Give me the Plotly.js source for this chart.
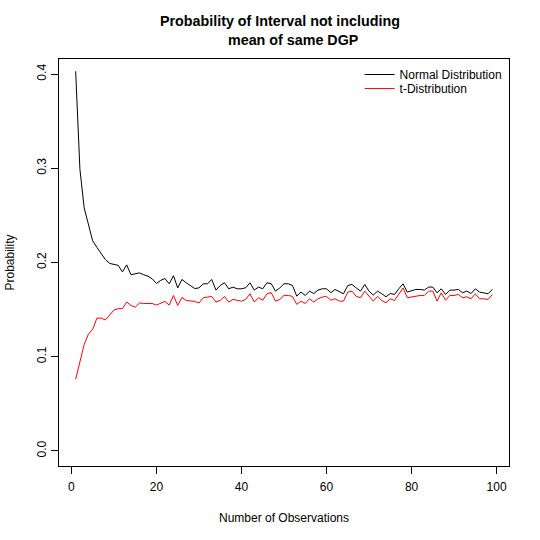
<!DOCTYPE html>
<html>
<head>
<meta charset="utf-8">
<script src="https://cdn.plot.ly/plotly-3.0.1.min.js"></script>
<style>
  html, body { margin: 0; padding: 0; background: #fff; }
  #plot { width: 540px; height: 540px; }
</style>
</head>
<body>
<div id="plot"></div>
<script>
// Sample sizes 1..99 and the share of intervals that miss the DGP mean.
const obs = Array.from({ length: 99 }, (_, i) => i + 1);

const normalProb = [
  0.403, 0.299, 0.258, 0.240, 0.223, 0.216, 0.209, 0.203, 0.199, 0.198,
  0.197, 0.190, 0.1975, 0.187, 0.188, 0.189, 0.187, 0.1855, 0.1827, 0.1777,
  0.181, 0.183, 0.1774, 0.186, 0.173, 0.182, 0.1785, 0.175, 0.1724, 0.173,
  0.1774, 0.1774, 0.182, 0.1707, 0.1756, 0.1785, 0.1721, 0.1739, 0.1721, 0.1721,
  0.1732, 0.1785, 0.1707, 0.1739, 0.1721, 0.1785, 0.1774, 0.1696, 0.173, 0.1774,
  0.1774, 0.1756, 0.1643, 0.1686, 0.165, 0.1696, 0.1671, 0.1707, 0.1721, 0.1721,
  0.1679, 0.1714, 0.169, 0.1668, 0.1756, 0.1767, 0.173, 0.1696, 0.1767, 0.1696,
  0.1654, 0.1696, 0.1668, 0.1636, 0.1671, 0.1661, 0.1721, 0.1774, 0.1686, 0.1696,
  0.1714, 0.1714, 0.1707, 0.1739, 0.1739, 0.1679, 0.1721, 0.1661, 0.1707, 0.1707,
  0.1714, 0.1679, 0.1696, 0.1671, 0.1721, 0.1686, 0.1679, 0.1668, 0.1714
];

const tProb = [
  0.076, 0.095, 0.113, 0.124, 0.129, 0.141, 0.141, 0.139, 0.144, 0.1495,
  0.151, 0.151, 0.158, 0.1544, 0.1526, 0.157, 0.1565, 0.1565, 0.1565, 0.1548,
  0.1565, 0.1587, 0.1548, 0.165, 0.1544, 0.163, 0.1597, 0.159, 0.1587, 0.157,
  0.1626, 0.1633, 0.164, 0.158, 0.1597, 0.164, 0.158, 0.1608, 0.160, 0.159,
  0.1608, 0.1668, 0.158, 0.1626, 0.160, 0.1668, 0.1679, 0.159, 0.1608, 0.1651,
  0.1651, 0.164, 0.1555, 0.159, 0.1565, 0.1615, 0.158, 0.1615, 0.1633, 0.164,
  0.160, 0.1615, 0.159, 0.159, 0.1686, 0.1696, 0.164, 0.1626, 0.1696, 0.164,
  0.159, 0.164, 0.1597, 0.1572, 0.1615, 0.1597, 0.1668, 0.173, 0.1626, 0.1636,
  0.164, 0.165, 0.165, 0.1696, 0.1696, 0.159, 0.1679, 0.160, 0.165, 0.165,
  0.1661, 0.1626, 0.1636, 0.1615, 0.1668, 0.1615, 0.1615, 0.1608, 0.1661
];

const xTicks = [0, 20, 40, 60, 80, 100];
const yTicks = [0, 0.1, 0.2, 0.3, 0.4];
const yTickText = ["0.0", "0.1", "0.2", "0.3", "0.4"];

const FONT = "Liberation Sans, Arial, sans-serif";

const data = [
  {
    type: "scatter", mode: "lines",
    x: obs, y: normalProb,
    name: "Normal Distribution",
    legend: "legend",
    line: { color: "#000000", width: 1 },
  },
  {
    type: "scatter", mode: "lines",
    x: obs, y: tProb,
    name: "t-Distribution",
    legend: "legend2",
    line: { color: "#ff0000", width: 1 },
  },
];

const axisBase = {
  showgrid: false,
  zeroline: false,
  showline: true,
  mirror: true,
  linecolor: "#000",
  linewidth: 1,
  ticks: "outside",
  ticklen: 7,
  tickwidth: 1,
  tickcolor: "#000",
  tickfont: { family: FONT, size: 12, color: "#000" },
  automargin: false,
};

// R-style legend: two tight rows, so each trace gets its own legend box.
const legendBase = {
  x: 0.668,
  xanchor: "left", yanchor: "top",
  bgcolor: "rgba(0,0,0,0)",
  borderwidth: 0,
  font: { family: FONT, size: 12, color: "#000" },
};

const layout = {
  width: 540,
  height: 540,
  paper_bgcolor: "#fff",
  plot_bgcolor: "#fff",
  font: { family: FONT, size: 12, color: "#000" },
  margin: { l: 59, r: 31, t: 59, b: 74 },
  xaxis: {
    ...axisBase,
    range: [-2.92, 102.92],
    tickvals: xTicks,
    ticklabelstandoff: 3,
    title: { text: "Number of Observations", font: { family: FONT, size: 12, color: "#000" }, standoff: 20 },
  },
  yaxis: {
    ...axisBase,
    range: [-0.016, 0.416],
    tickvals: yTicks,
    ticktext: yTickText,
    tickangle: -90,
    title: { text: "Probability", font: { family: FONT, size: 12, color: "#000" }, standoff: 18 },
  },
  legend: { ...legendBase, y: 0.9975 },
  legend2: { ...legendBase, y: 0.963 },
  annotations: [
    {
      text: "<b>Probability of Interval not including</b>",
      xref: "paper", yref: "paper",
      x: 0.49, y: 1.118, showarrow: false,
      font: { family: FONT, size: 14.3, color: "#000" },
    },
    {
      text: "<b>mean of same DGP</b>",
      xref: "paper", yref: "paper",
      x: 0.522, y: 1.071, showarrow: false,
      font: { family: FONT, size: 14.3, color: "#000" },
    },
  ],
  showlegend: true,
};

Plotly.newPlot("plot", data, layout, { displayModeBar: false, staticPlot: true });
</script>
</body>
</html>
